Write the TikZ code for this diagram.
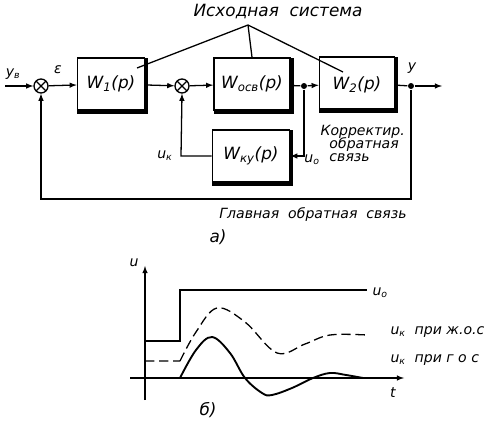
\documentclass[tikz,border=0pt]{standalone}
\usepackage{fontspec}
\setmainfont{DejaVu Sans}
\newcommand{\sbs}[1]{\textsubscript{#1}}

\begin{document}
\begin{tikzpicture}[x=0.03cm,y=-0.03cm,>=latex,line width=1.1pt,
  lbl/.style={font=\large\itshape},
  blk/.style={draw,line width=1.3pt,fill=white,minimum height=1.56cm,font=\Large\itshape},
  shd/.style={line width=3pt,line cap=rect},
  sum/.style={draw,circle,fill=white,minimum size=0.42cm,inner sep=0pt,
    path picture={\draw (path picture bounding box.north west) -- (path picture bounding box.south east)
      (path picture bounding box.north east) -- (path picture bounding box.south west);}},
  dot/.style={circle,fill,inner sep=1.8pt}]
  \useasboundingbox (0,0) rectangle (500,429);
  % a)
  \coordinate (in) at (5,86);
  \node[sum] (s1) at (41,86) {};
  \node[blk,minimum width=2.01cm] (w1) at (111,84) {W\sbs{1}(p)};
  \node[sum] (s2) at (182,86) {};
  \node[blk,minimum width=2.28cm] (wosv) at (252,84) {W\sbs{осв}(p)};
  \node[dot] (b1) at (304,86) {};
  \node[blk,minimum width=2.25cm,text depth=-8pt] (w2) at (357,83) {W\sbs{2}(p)};
  \node[dot] (b2) at (411,86) {};
  \coordinate (out) at (442,86);
  \node[blk,minimum width=2.31cm] (wku) at (251,156) {W\sbs{ку}(p)};
  \foreach \b in {w1,wosv,w2,wku}
    \draw[shd] ([shift={(1pt,-2pt)}]\b.north east) -- ([shift={(1pt,-1pt)}]\b.south east) -- ([shift={(2pt,-1pt)}]\b.south west);
  \coordinate (apex) at (248,25);
  \coordinate (fb) at (411,199);
  \coordinate (cu) at (181,156);
  \draw[->] (in) -- (s1);
  \draw[->] (s1) -- (w1);
  \draw[->] (w1) -- (s2);
  \draw[->] (s2) -- (wosv);
  \draw (wosv) -- (b1);
  \draw[->] (b1) -- (w2);
  \draw (w2) -- (b2);
  \draw[->] (b2) -- (out);
  \draw[->] (b2) -- (fb) -| (s1.south);
  \draw[->] (b1) |- (wku.east);
  \draw[->] (wku.west) -- (cu) -- (s2.south);
  \draw (apex) -- (137,68);
  \draw (apex) -- (wosv.north);
  \draw (apex) -- (343,72);
  \node[lbl,font=\Large\itshape] (tsys) at (278,12) {Исходная\ \ система};
  \node[lbl] (tyv) at (13,74) {y\sbs{в}};
  \node[lbl] (teps) at (58,70) {ε};
  \node[lbl] (ty) at (412,68) {y};
  \node[lbl,left] (tuk) at (177,156) {u\sbs{к}};
  \node[lbl] (tuo) at (312,160) {u\sbs{o}};
  \node[lbl,align=left,anchor=north west] (tkor) at (316,121) {Корректир.\\[-3pt]\ \ обратная\\[-3pt]\ \ связь};
  \node[lbl] (tgl) at (313,215) {Главная\ \ обратная\ \ связь};
  \node[lbl,font=\Large\itshape] (ta) at (218,237) {а)};
  % b)
  \draw[->] (145,400) -- (145,266);
  \draw[->] (130,378) -- (404,378);
  \draw[line width=1.6pt] (145,341) -- (180,341) -- (180,290) -- (367,290);
  \draw[dash pattern=on 8pt off 4pt] (145,361) -- (180,361)
    plot[smooth,tension=0.6] coordinates {(180,361) (196,332) (217,308) (245,322) (277,353) (305,344) (330,335) (367,335)};
  \draw[line width=1.6pt] (145,378) -- (180,378)
    plot[smooth,tension=0.6] coordinates {(180,378) (196,350) (212,337) (230,353) (245,378) (262,393) (272,395) (292,388) (313,378) (330,373) (346,375) (363,378)};
  \node[lbl] (tu) at (134,263) {u};
  \node[lbl] (tt) at (393,393) {t};
  \node[lbl,right] (tu0) at (368,293) {u\sbs{o}};
  \node[lbl,right] (tuk1) at (386,332) {u\sbs{к}\ \ при ж.о.с};
  \node[lbl,right] (tuk2) at (386,360) {u\sbs{к}\ \ при г о с};
  \node[lbl,font=\Large\itshape] (tb) at (208,410) {б)};
\end{tikzpicture}
\end{document}
